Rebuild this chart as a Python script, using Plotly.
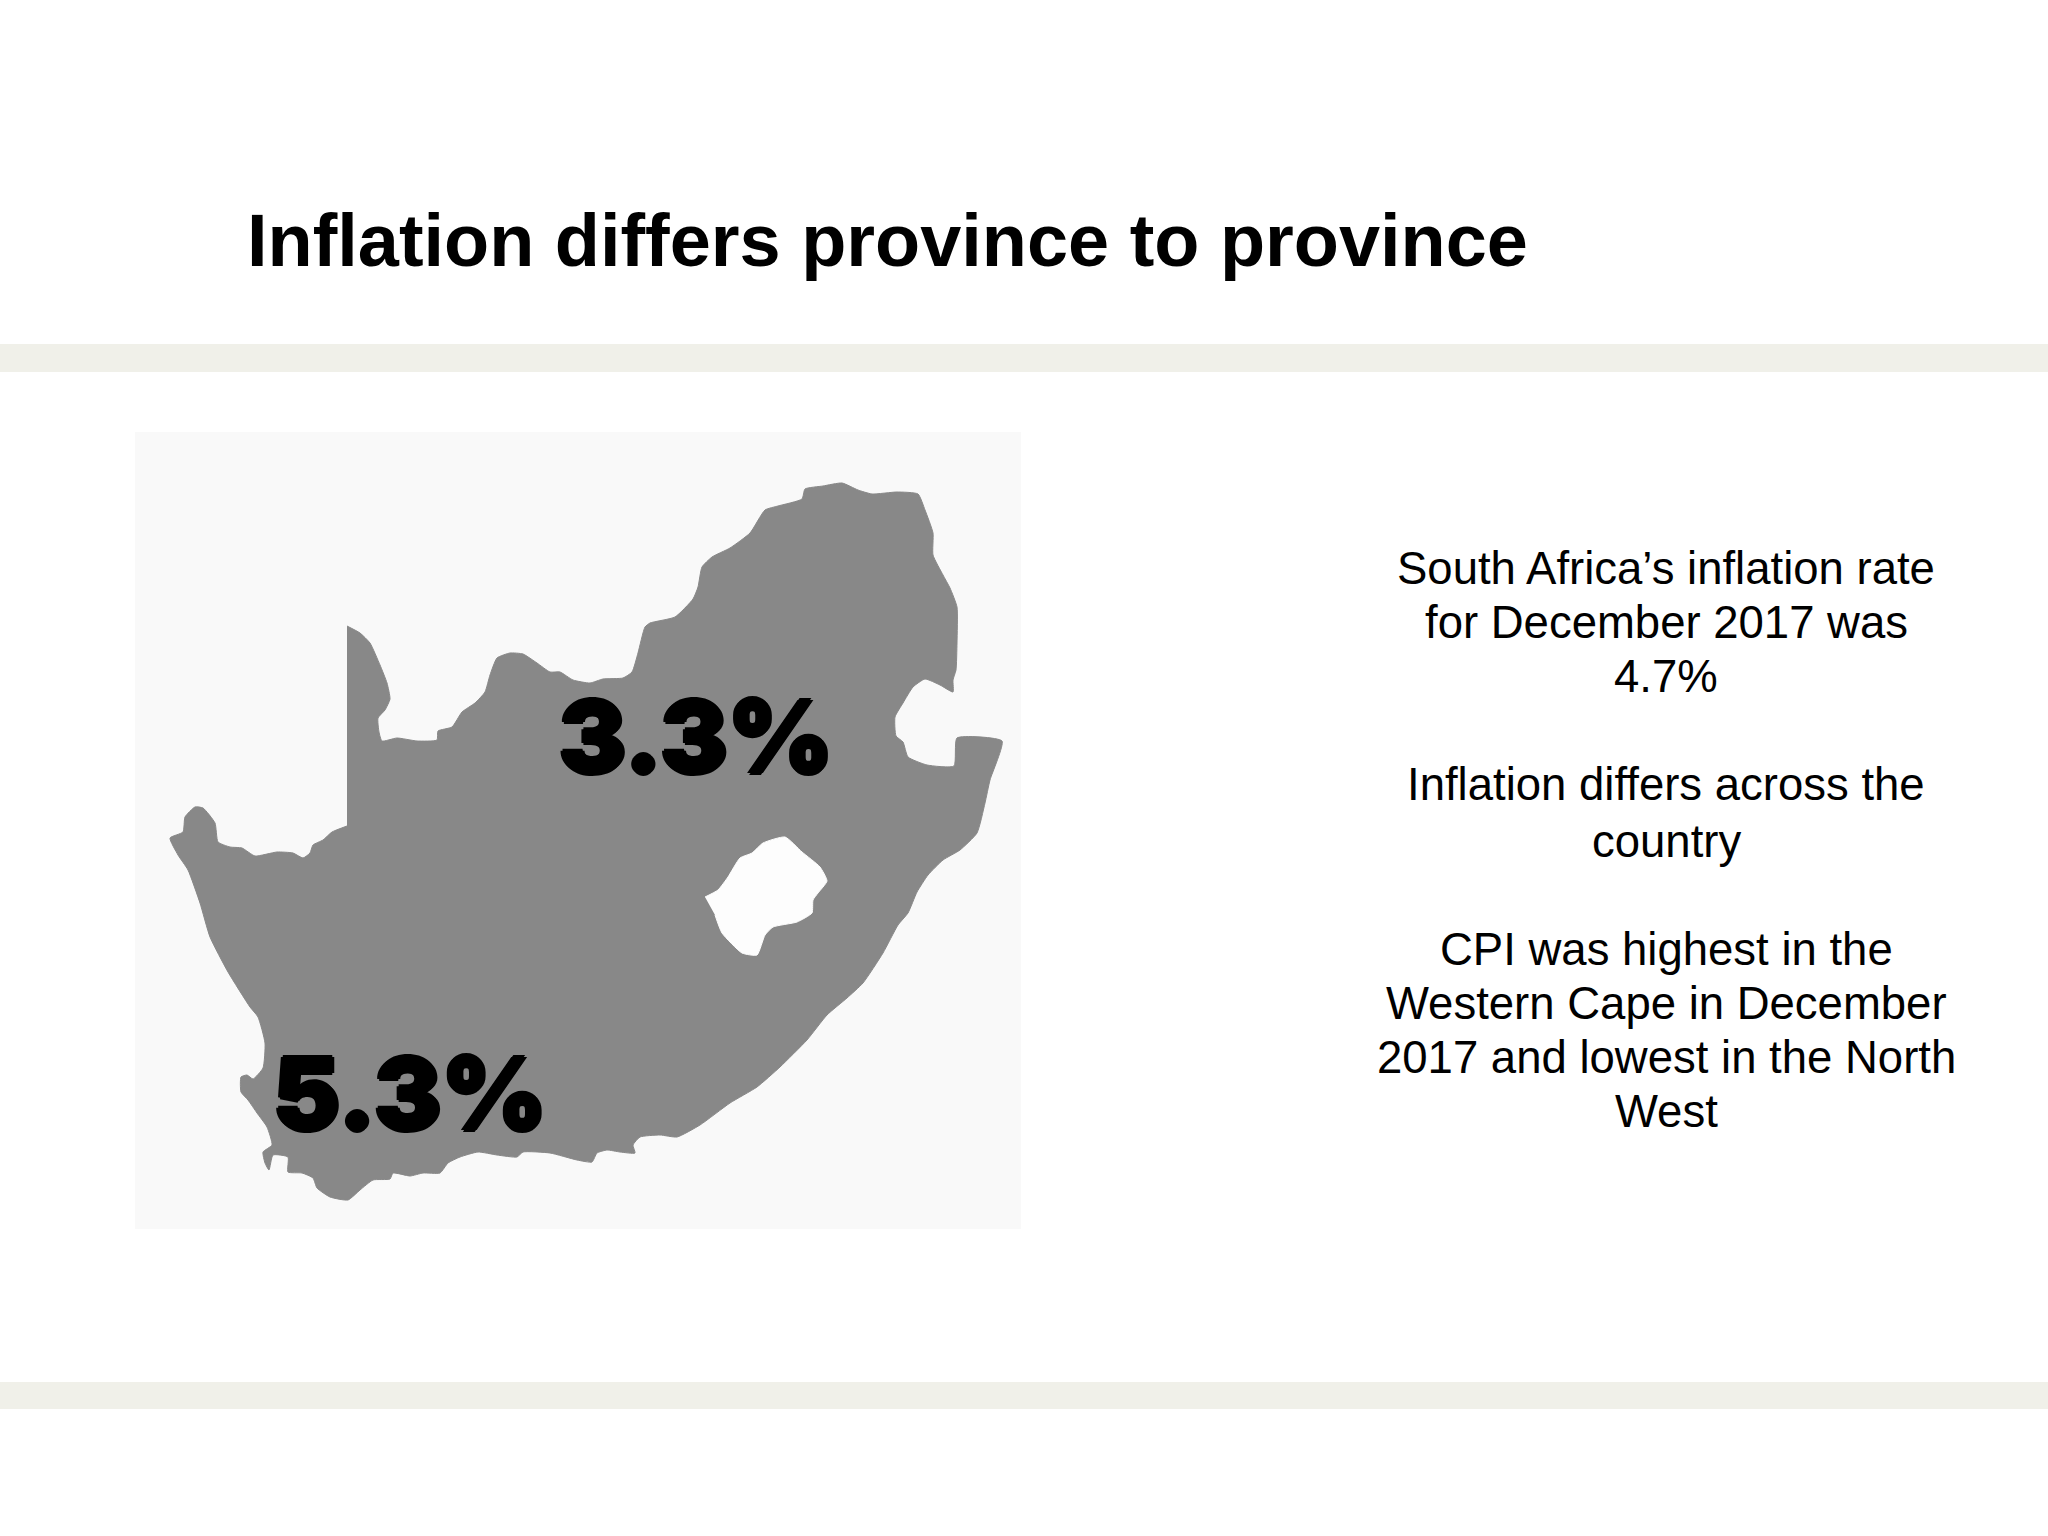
import plotly.graph_objects as go

title = "Inflation differs province to province"

# map outline, clockwise from the top of the Botswana border
outline_x = [347, 360, 370, 380, 387, 390, 385, 378, 379, 382, 397, 417, 437, 438, 452, 462, 475, 485, 490, 497,
             510, 523, 537, 550, 560, 573, 590, 603, 623, 632, 638, 645, 650, 675, 693, 698, 702, 712, 730, 750,
             765, 778, 802, 805, 823, 842, 858, 872, 897, 918, 925, 933, 933, 943, 950, 957, 957, 956, 953, 953,
             940, 925, 913, 903, 895, 896, 903, 908, 927, 954, 957, 1002, 990, 985, 977, 960, 943, 928, 917, 908,
             898, 883, 863, 847, 827, 807, 780, 757, 730, 700, 677, 660, 640, 633, 635, 620, 607, 597, 592, 577,
             550, 523, 517, 497, 478, 460, 448, 440, 423, 410, 393, 390, 373, 360, 348, 330, 317, 313, 302, 288,
             288, 273, 269, 265, 263, 272, 267, 257, 248, 241, 241, 247, 253, 263, 265, 258, 250, 228, 210, 200,
             188, 178, 170, 183, 185, 195, 203, 215, 218, 230, 242, 255, 277, 293, 303, 310, 313, 323, 332, 347]
outline_y = [626, 633, 643, 665, 683, 699, 710, 718, 732, 741, 738, 741, 740, 731, 727, 712, 703, 692, 675, 658,
             653, 654, 663, 672, 672, 680, 683, 679, 678, 672, 653, 627, 623, 617, 599, 587, 567, 557, 548, 533,
             510, 506, 499, 489, 486, 483, 490, 494, 492, 494, 510, 533, 555, 575, 588, 607, 643, 670, 680, 692,
             685, 679, 687, 703, 717, 736, 742, 757, 765, 766, 738, 741, 780, 803, 833, 850, 860, 875, 892, 913,
             925, 953, 983, 998, 1015, 1040, 1067, 1087, 1103, 1125, 1137, 1135, 1137, 1145, 1153, 1152, 1150, 1153, 1162, 1160,
             1153, 1152, 1157, 1155, 1152, 1157, 1163, 1173, 1173, 1176, 1173, 1179, 1180, 1190, 1200, 1197, 1188, 1178, 1173, 1172,
             1157, 1155, 1170, 1163, 1152, 1145, 1127, 1113, 1100, 1092, 1077, 1075, 1079, 1068, 1043, 1017, 1007, 972, 937, 903,
             870, 855, 838, 832, 817, 807, 808, 823, 842, 847, 848, 856, 852, 853, 858, 853, 845, 840, 832, 826]

lesotho_x = [705, 718, 728, 740, 752, 763, 785, 802, 820, 827, 818, 813, 812, 797, 773, 765, 757, 742, 722, 715]
lesotho_y = [897, 890, 877, 858, 853, 843, 837, 852, 867, 881, 893, 900, 913, 922, 927, 935, 955, 953, 933, 915]

cpi_values = [3.3, 5.3]
cpi_x = [696, 410]
cpi_y = [748, 1105]

text_lines = [
    "South Africa’s inflation rate", "for December 2017 was", "4.7%",
    "Inflation differs across the", "country",
    "CPI was highest in the", "Western Cape in December", "2017 and lowest in the North", "West",
]
line_y = [568, 622, 676, 784, 841, 949, 1003, 1057, 1111]

fig = go.Figure()
fig.add_trace(go.Scatter(x=outline_x, y=outline_y, mode="lines", fill="toself",
                         fillcolor="#888888", line=dict(color="#888888", width=1, shape="spline", smoothing=0.5),
                         hoverinfo="skip"))
fig.add_trace(go.Scatter(x=lesotho_x, y=lesotho_y, mode="lines", fill="toself",
                         fillcolor="#fdfdfd", line=dict(color="#fdfdfd", width=1, shape="spline", smoothing=0.5),
                         hoverinfo="skip"))
fig.add_trace(go.Scatter(x=cpi_x, y=cpi_y, mode="text", text=[f"{v}%" for v in cpi_values],
                         textposition="middle center",
                         textfont=dict(family="Inter", size=101, color="black", weight=900,
                                       shadow="2px 0 0 #000, -2px 0 0 #000, 0 2px 0 #000, 0 -2px 0 #000"),
                         hoverinfo="skip"))

for text, y in zip(text_lines, line_y):
    fig.add_annotation(x=1666, y=y, text=text, showarrow=False, align="center",
                       xanchor="center", yanchor="middle",
                       font=dict(family="Liberation Sans", size=45.5, color="black"))

fig.update_layout(
    title=dict(text=title, x=247 / 2048, xanchor="left", y=1 - 240 / 1536, yanchor="middle",
               font=dict(family="Liberation Sans", size=73.9, color="black", weight=700)),
    width=2048, height=1536,
    margin=dict(l=0, r=0, t=0, b=0),
    showlegend=False,
    paper_bgcolor="white", plot_bgcolor="white",
)
fig.update_xaxes(range=[0, 2048], visible=False)
fig.update_yaxes(range=[1536, 0], visible=False)

# grey bands and the pale box behind the map
fig.add_shape(type="rect", x0=0, x1=2048, y0=344, y1=372, fillcolor="#f0f0e9", line_width=0, layer="below")
fig.add_shape(type="rect", x0=0, x1=2048, y0=1382, y1=1409, fillcolor="#f0f0e9", line_width=0, layer="below")
fig.add_shape(type="rect", x0=135, x1=1021, y0=432, y1=1229, fillcolor="#f9f9f9", line_width=0, layer="below")

fig.write_html("out.html", config={"displayModeBar": False}, post_script="document.body.style.margin = '0';")
